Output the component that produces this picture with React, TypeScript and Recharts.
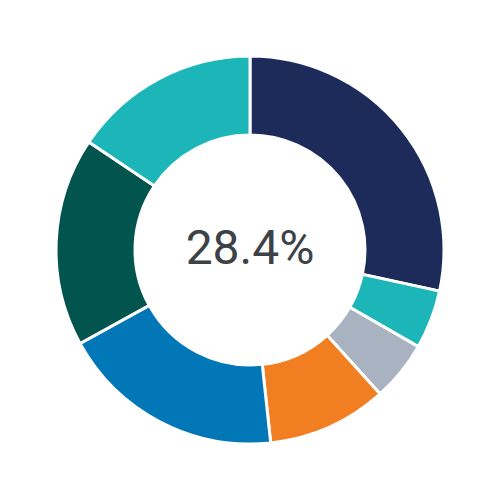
import { PieChart, Pie, Cell } from "recharts"

const labels = ["A", "B", "C", "D", "E", "F", "G"]
const values = [28.4, 4.9, 5.0, 10.0, 18.7, 17.4, 15.6]
const colors = ["#1d2b5b", "#1cb6b8", "#a8b2c0", "#f27e22", "#0177b7", "#02544f", "#1cb6b8"]
const centerLabel = "28.4%"

const data = labels.map((name, i) => ({ name, value: values[i] }))

const App = () => {
	return (
		<div style={{ position: "absolute", left: 0, top: 0, width: 500, height: 500, background: "#fff" }}>
			<PieChart width={500} height={500} margin={{ top: 0, right: 0, bottom: 0, left: 0 }}>
				<Pie
					data={data}
					dataKey="value"
					cx="50%"
					cy="50%"
					innerRadius={115}
					outerRadius={194}
					startAngle={90}
					endAngle={-270}
					stroke="#ffffff"
					strokeWidth={3}
					isAnimationActive={false}
				>
					{data.map((d, i) => (
						<Cell key={d.name} fill={colors[i]} />
					))}
				</Pie>
				<text
					x={250}
					y={247}
					textAnchor="middle"
					dominantBaseline="central"
					fontFamily="Roboto, sans-serif"
					fontSize={48}
					fill="#3d4247"
				>
					{centerLabel}
				</text>
			</PieChart>
		</div>
	)
}

export default App
